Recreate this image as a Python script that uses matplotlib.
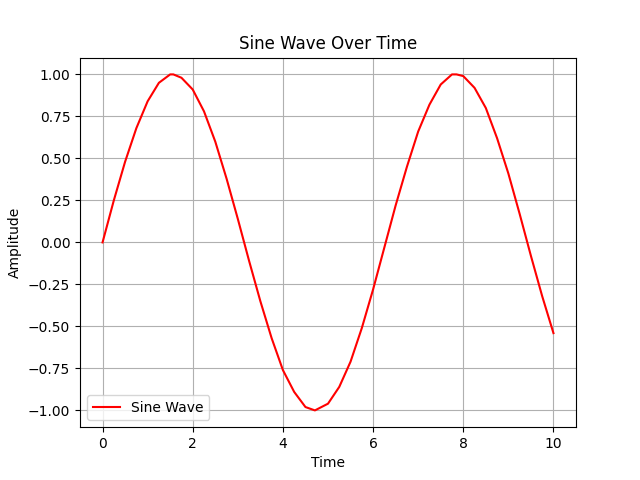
import matplotlib
matplotlib.use("Agg")
import matplotlib.pyplot as plt

# values
time = [0.0, 0.25, 0.5, 0.75, 1.0, 1.25, 1.5, 1.57, 1.75, 2.0, 2.25, 2.5, 2.75,
        3.0, 3.25, 3.5, 3.75, 4.0, 4.25, 4.5, 4.71, 5.0, 5.25, 5.5, 5.75,
        6.0, 6.25, 6.5, 6.75, 7.0, 7.25, 7.5, 7.75, 7.85, 8.0, 8.25, 8.5, 8.75,
        9.0, 9.25, 9.5, 9.75, 10.0]
amplitude = [0.00, 0.25, 0.48, 0.68, 0.84, 0.95, 1.00, 1.00, 0.98, 0.91, 0.78, 0.60, 0.38,
             0.14, -0.11, -0.35, -0.57, -0.76, -0.89, -0.98, -1.00, -0.96, -0.86, -0.71, -0.51,
             -0.28, -0.03, 0.22, 0.45, 0.66, 0.82, 0.94, 1.00, 1.00, 0.99, 0.92, 0.80, 0.62,
             0.41, 0.17, -0.08, -0.32, -0.54]

fig, ax = plt.subplots(figsize=(6.4, 4.8), dpi=100)
ax.plot(time, amplitude, color="red", label="Sine Wave")
ax.set_title("Sine Wave Over Time")
ax.set_xlabel("Time")
ax.set_ylabel("Amplitude")
ax.grid(True)
ax.legend(loc="lower left")
fig.savefig("out.png")
